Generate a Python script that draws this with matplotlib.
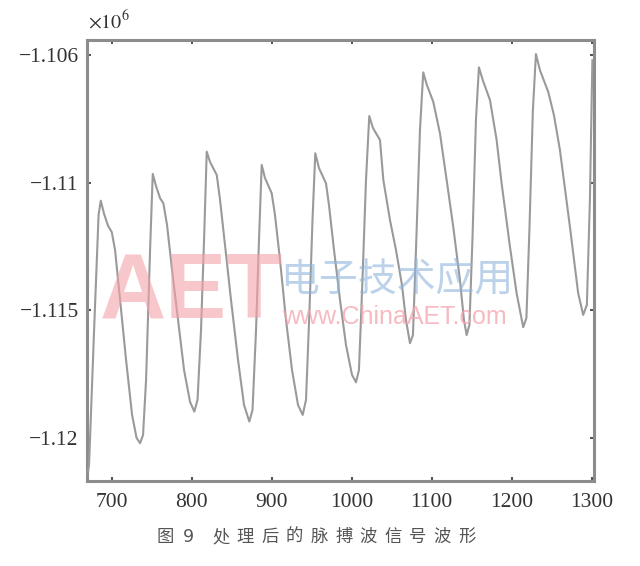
import matplotlib
matplotlib.use("Agg")
import matplotlib.pyplot as plt

# pulse wave samples (x: sample index, y: value in units of 1e6)
sample_idx = [670.4, 671.6, 677.9, 683.5, 686.25, 690.4, 695.4, 700.0, 704.1, 710.4,
              717.9, 725.4, 731.0, 735.4, 739.1, 742.9, 747.9, 751.25,
              755.4, 760.4, 764.5, 769.1, 775.4, 782.9, 790.4, 797.9, 803.25,
              807.25, 811.6, 815.4, 818.75,
              822.9, 831.25, 835.4, 841.6, 849.1, 857.9, 865.4, 872.0, 876.0,
              880.4, 884.1, 887.5,
              891.6, 900.0, 904.1, 910.4, 917.9, 925.4, 932.9, 938.75, 942.9,
              947.25, 951.0, 954.5,
              959.1, 967.9, 971.6, 977.9, 985.4, 992.9, 1000.4, 1005.4, 1009.1,
              1013.5, 1017.9, 1022.0,
              1026.6, 1035.4, 1039.6, 1047.9, 1055.4, 1062.9, 1067.9, 1072.9,
              1076.6, 1080.4, 1085.4, 1089.5,
              1094.1, 1102.0, 1110.4, 1118.75, 1127.0, 1135.4, 1140.4, 1143.75,
              1147.25, 1151.0, 1155.4, 1159.1,
              1163.9, 1172.9, 1181.25, 1187.5, 1197.9, 1206.25, 1214.5, 1218.5,
              1222.25, 1226.6, 1230.4,
              1235.4, 1245.75, 1252.9, 1260.4, 1272.9, 1283.25, 1289.5, 1294.1,
              1297.9, 1301.0]
pulse_val = [-1.12135, -1.12107, -1.11578, -1.11127, -1.11071, -1.11123, -1.11170, -1.11194,
             -1.11264, -1.11460, -1.11696, -1.11911, -1.12001, -1.12022, -1.11990,
             -1.11774, -1.11264, -1.10966,
             -1.11014, -1.11061, -1.11081, -1.11166, -1.11343, -1.11539, -1.11735,
             -1.11860, -1.11898, -1.11852, -1.11578, -1.11225, -1.10879,
             -1.10919, -1.10970, -1.11068, -1.11245, -1.11460, -1.11696, -1.11872,
             -1.11937, -1.11892, -1.11578, -1.11225, -1.10931,
             -1.10982, -1.11042, -1.11127, -1.11304, -1.11539, -1.11735, -1.11872,
             -1.11911, -1.11852, -1.11500, -1.11147, -1.10885,
             -1.10943, -1.11003, -1.11088, -1.11264, -1.11460, -1.11637, -1.11754,
             -1.11783, -1.11735, -1.11382, -1.10990, -1.10739,
             -1.10786, -1.10833, -1.10990, -1.11147, -1.11264, -1.11402, -1.11539,
             -1.11630, -1.11598, -1.11264, -1.10794, -1.10568,
             -1.10618, -1.10683, -1.10807, -1.10990, -1.11173, -1.11382, -1.11539,
             -1.11598, -1.11558, -1.11225, -1.10755, -1.10548,
             -1.10598, -1.10676, -1.10833, -1.11003, -1.11251, -1.11434, -1.11567,
             -1.11531, -1.11186, -1.10716, -1.10496,
             -1.10559, -1.10644, -1.10735, -1.10872, -1.11173, -1.11434, -1.11519,
             -1.11480, -1.11068, -1.10520]

x_ticks = [700, 800, 900, 1000, 1100, 1200, 1300]
y_ticks = [-1.105, -1.11, -1.115, -1.12]
y_tick_labels = ["\u22121.106", "\u22121.11", "\u22121.115", "\u22121.12"]

caption_head = ["图", "9"]
caption_body = "处理后的脉搏波信号波形"

plt.rcParams["mathtext.fontset"] = "stix"

fig = plt.figure(figsize=(6.4, 5.66), dpi=100)
ax = fig.add_axes([0.1359, 0.1507, 0.7922, 0.7786])

ax.plot(sample_idx, pulse_val, color="#9a9a9a", linewidth=1.5, zorder=3,
        solid_joinstyle="round")

ax.set_xlim(669, 1303)
ax.set_ylim(-1.12169, -1.10441)

ax.set_xticks(x_ticks)
ax.set_xticklabels([str(v) for v in x_ticks])
ax.set_yticks(y_ticks)
ax.set_yticklabels(y_tick_labels)

for s in ax.spines.values():
    s.set_color("#8c8c8c")
    s.set_linewidth(2.2)

ax.tick_params(direction="in", length=3, width=1.5, color="#555555",
               top=True, right=True, labelsize=15.5, labelcolor="#333333")
ax.tick_params(axis="x", pad=9)
ax.tick_params(axis="y", pad=6)
for lab in ax.get_xticklabels() + ax.get_yticklabels():
    lab.set_family("Liberation Serif")

# exponent marker above the y axis
fig.text(88 / 640, 1 - 28 / 566, r"$\times10^{6}$", fontsize=14.5, color="#333333",
         ha="left", va="baseline")

# watermark
fig.text(100 / 640, 1 - 318 / 566, "AET", fontsize=66, fontweight="bold",
         family="Liberation Sans", color="#f4a3ab", alpha=0.6, ha="left",
         va="baseline", zorder=0)
fig.text(280 / 640, 1 - 290 / 566, "电子技术应用", fontsize=28,
         family="Noto Sans CJK SC", color="#8fb5dc", alpha=0.6, ha="left",
         va="baseline", zorder=0)
fig.text(282 / 640, 1 - 324 / 566, "www.ChinaAET.com", fontsize=18,
         family="Liberation Sans", color="#f4a3ab", alpha=0.75, ha="left",
         va="baseline", zorder=0)

# caption below the chart
fig.text(157 / 640, 1 - 542 / 566, caption_head[0], fontsize=12.5,
         family="Noto Sans CJK SC", color="#555555", ha="left", va="baseline")
fig.text(183 / 640, 1 - 542 / 566, caption_head[1], fontsize=12.5,
         family="DejaVu Sans", color="#555555", ha="left", va="baseline")
for i, ch in enumerate(caption_body):
    fig.text((212 + i * 24.6) / 640, 1 - 542 / 566, ch, fontsize=12.5,
             family="Noto Sans CJK SC", color="#555555", ha="left", va="baseline")

fig.savefig("out.png", dpi=100)
